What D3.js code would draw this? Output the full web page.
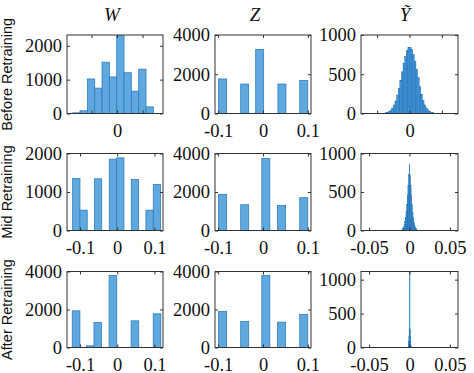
<!DOCTYPE html>
<html>
    <head>
        <title>Histograms | D3</title>
        <script src="https://d3js.org/d3.v7.min.js" charset="utf-8"></script>
        <style>
            body {
                margin: 0;
                background: white;
            }
            .title {
                font-family: "Liberation Serif", "Times New Roman", serif;
                font-style: italic;
                font-size: 19px;
                fill: #111;
            }
            .rowlab {
                font-family: "Liberation Sans", Arial, sans-serif;
                font-size: 14.5px;
                fill: #111;
            }
        </style>
    </head>

    <body>
        <script>
            // chart data
            var rowLabels = ["Before Retraining", "Mid Retraining", "After Retraining"];
            var colTitles = ["W", "Z", "Ỹ"];

            // W histograms (bin centres, counts)
            var wBeforeX = [-0.0796, -0.0653, -0.0509, -0.0366, -0.0222, -0.0079, 0.0065, 0.0208, 0.0352, 0.0496, 0.0639];
            var wBeforeN = [20, 80, 1020, 750, 1515, 1080, 2320, 1205, 660, 1310, 195];
            var wMidX = [-0.110, -0.0905, -0.0515, -0.0116, 0.0082, 0.0476, 0.0870, 0.1067];
            var wMidN = [1350, 528, 1342, 1853, 1887, 1325, 528, 1195];
            var wAfterX = [-0.1106, -0.0726, -0.0523, -0.0116, 0.0476, 0.1070];
            var wAfterN = [1930, 88, 1316, 3789, 1404, 1772];

            // Z histograms
            var zBeforeX = [-0.0900, -0.0408, -0.0074, 0.0422, 0.0908];
            var zBeforeN = [1760, 1500, 3260, 1500, 1680];
            var zMidX = [-0.0900, -0.0408, 0.0063, 0.0415, 0.0908];
            var zMidN = [1878, 1339, 3739, 1304, 1704];
            var zAfterX = [-0.0900, -0.0408, 0.0063, 0.0415, 0.0908];
            var zAfterN = [1902, 1369, 3787, 1333, 1742];

            // Y~ histograms
            var yBeforeX = [-0.0165, -0.0155, -0.0145, -0.0135, -0.0125, -0.0115, -0.0105, -0.0095, -0.0085, -0.0075,
                            -0.0065, -0.0055, -0.0045, -0.0035, -0.0025, -0.0015, -0.0005, 0.0005, 0.0015, 0.0025,
                            0.0035, 0.0045, 0.0055, 0.0065, 0.0075, 0.0085, 0.0095, 0.0105, 0.0115, 0.0125,
                            0.0135, 0.0145, 0.0155, 0.0165];
            var yBeforeN = [2, 4, 9, 14, 27, 43, 70, 108, 160, 236,
                            318, 420, 531, 640, 728, 800, 838, 845, 812, 752,
                            668, 560, 458, 340, 245, 168, 110, 72, 46, 28,
                            16, 9, 5, 2];
            var yMidX = [-0.0096, -0.0088, -0.0080, -0.0072, -0.0064, -0.0056, -0.0048, -0.0040, -0.0032, -0.0024,
                         -0.0016, -0.0008, 0, 0.0008, 0.0016, 0.0024, 0.0032, 0.0040, 0.0048, 0.0056,
                         0.0064, 0.0072, 0.0080, 0.0088, 0.0096];
            var yMidN = [5, 12, 25, 45, 75, 115, 170, 245, 340, 460,
                         590, 730, 860, 720, 585, 455, 335, 240, 168, 112,
                         72, 44, 24, 11, 4];
            var yAfterX = [-0.0015, -0.0012, -0.0009, -0.0006, -0.0003, 0, 0.0003, 0.0006, 0.0009, 0.0012, 0.0015];
            var yAfterN = [15, 40, 90, 170, 280, 1120, 270, 160, 85, 38, 12];

            // axis ticks
            var wBeforeTicks = [-0.05, 0, 0.05];
            var wBeforeTickLabels = ["", "0", ""];
            var wTicks = [-0.1, 0, 0.1];
            var wTickLabels = ["-0.1", "0", "0.1"];
            var zTicks = [-0.1, 0, 0.1];
            var zTickLabels = ["-0.1", "0", "0.1"];
            var yBeforeTicks = [-0.02, 0, 0.02];
            var yBeforeTickLabels = ["", "0", ""];
            var yTicks = [-0.05, 0, 0.05];
            var yTickLabels = ["-0.05", "0", "0.05"];
            var countTicks1k = [0, 1000, 2000];
            var countTicks2k = [0, 2000, 4000];
            var countTicks500 = [0, 500, 1000];

            var width = 474;
            var height = 373;
            var serif = '"Liberation Serif", "Times New Roman", serif';

            var svg = d3.select("body")
                .append("svg")
                .attr("width", width)
                .attr("height", height);

            // panel layout
            var colX = [67, 215, 361];
            var colW = [96, 96, 97];
            var rowY = [35, 153.5, 271.5];
            var rowH = [78.5, 77, 76];
            var titleX = [112, 255, 405];
            var blue = "#5fa9de";

            var panels = [
                {r: 0, c: 0, x: wBeforeX, n: wBeforeN, bw: 0.01436, xd: [-0.098, 0.09], yd: [0, 2320], xt: wBeforeTicks, xl: wBeforeTickLabels, yt: countTicks1k, dense: false},
                {r: 0, c: 1, x: zBeforeX, n: zBeforeN, bw: 0.0178, xd: [-0.107, 0.107], yd: [0, 4000], xt: zTicks, xl: zTickLabels, yt: countTicks2k, dense: false},
                {r: 0, c: 2, x: yBeforeX, n: yBeforeN, bw: 0.001, xd: [-0.03, 0.03], yd: [0, 1000], xt: yBeforeTicks, xl: yBeforeTickLabels, yt: countTicks500, dense: true},
                {r: 1, c: 0, x: wMidX, n: wMidN, bw: 0.0196, xd: [-0.135, 0.123], yd: [0, 2000], xt: wTicks, xl: wTickLabels, yt: countTicks1k, dense: false},
                {r: 1, c: 1, x: zMidX, n: zMidN, bw: 0.0178, xd: [-0.107, 0.107], yd: [0, 4000], xt: zTicks, xl: zTickLabels, yt: countTicks2k, dense: false},
                {r: 1, c: 2, x: yMidX, n: yMidN, bw: 0.0008, xd: [-0.06, 0.06], yd: [0, 1000], xt: yTicks, xl: yTickLabels, yt: countTicks500, dense: true},
                {r: 2, c: 0, x: wAfterX, n: wAfterN, bw: 0.0205, xd: [-0.135, 0.123], yd: [0, 4000], xt: wTicks, xl: wTickLabels, yt: countTicks2k, dense: false},
                {r: 2, c: 1, x: zAfterX, n: zAfterN, bw: 0.0178, xd: [-0.107, 0.107], yd: [0, 4000], xt: zTicks, xl: zTickLabels, yt: countTicks2k, dense: false},
                {r: 2, c: 2, x: yAfterX, n: yAfterN, bw: 0.0003, xd: [-0.06, 0.06], yd: [0, 1120], xt: yTicks, xl: yTickLabels, yt: countTicks500, dense: true}
            ];

            panels.forEach(function(p, i) {
                var w = colW[p.c], h = rowH[p.r];
                var g = svg.append("g")
                    .attr("transform", "translate(" + colX[p.c] + "," + rowY[p.r] + ")");

                var xs = d3.scaleLinear().domain(p.xd).range([0, w]);
                var ys = d3.scaleLinear().domain(p.yd).range([h, 0]);

                g.append("clipPath").attr("id", "clip" + i)
                    .append("rect").attr("width", w).attr("height", h);

                var bins = p.x.map(function(c, k) { return {c: c, n: p.n[k]}; });

                g.append("g")
                    .attr("clip-path", "url(#clip" + i + ")")
                    .selectAll("rect")
                    .data(bins)
                    .enter()
                    .append("rect")
                    .attr("x", function(d) { return xs(d.c - p.bw / 2); })
                    .attr("width", function(d) { return Math.max(xs(d.c + p.bw / 2) - xs(d.c - p.bw / 2), 0.6); })
                    .attr("y", function(d) { return ys(d.n); })
                    .attr("height", function(d) { return ys(0) - ys(d.n); })
                    .attr("fill", p.dense ? "#3f93d6" : blue)
                    .attr("stroke", p.dense ? "#1668b0" : "#2f7cc0")
                    .attr("stroke-width", p.dense ? 0.4 : 0.8);

                // ticks pointing inwards on all four sides
                var labels = p.xl;
                var axes = g.append("g");
                axes.append("g")
                    .attr("transform", "translate(0," + h + ")")
                    .call(d3.axisBottom(xs).tickValues(p.xt).tickSize(-3).tickPadding(10)
                        .tickFormat(function(d, k) { return labels[k]; }));
                axes.append("g")
                    .call(d3.axisTop(xs).tickValues(p.xt).tickSize(-3).tickFormat(""));
                axes.append("g")
                    .call(d3.axisLeft(ys).tickValues(p.yt).tickSize(-3).tickPadding(5)
                        .tickFormat(d3.format("d")));
                axes.append("g")
                    .attr("transform", "translate(" + w + ",0)")
                    .call(d3.axisRight(ys).tickValues(p.yt).tickSize(-3).tickFormat(""));
                axes.selectAll(".domain").remove();
                axes.selectAll(".tick line").attr("stroke", "#333");
                axes.selectAll("text")
                    .style("font-family", serif)
                    .style("font-size", "18.5px")
                    .attr("fill", "#111");

                g.append("rect")
                    .attr("width", w)
                    .attr("height", h)
                    .attr("fill", "none")
                    .attr("stroke", "#333")
                    .attr("stroke-width", 1);
            });

            // column titles
            svg.selectAll(".title")
                .data(colTitles)
                .enter()
                .append("text")
                .attr("class", "title")
                .attr("x", function(d, i) { return titleX[i]; })
                .attr("y", 21)
                .attr("text-anchor", "middle")
                .text(function(d) { return d; });

            // row labels
            svg.selectAll(".rowlab")
                .data(rowLabels)
                .enter()
                .append("text")
                .attr("class", "rowlab")
                .attr("transform", function(d, i) {
                    return "translate(12," + (rowY[i] + rowH[i] / 2) + ") rotate(-90)";
                })
                .attr("text-anchor", "middle")
                .text(function(d) { return d; });
        </script>
    </body>
</html>
